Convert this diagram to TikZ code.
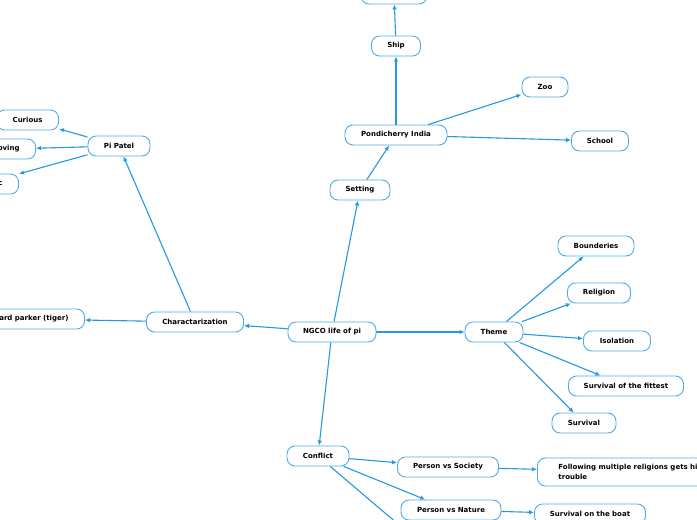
\documentclass[tikz,border=0pt]{standalone}
\usepackage{fontspec}
\newfontfamily\mapfont{DejaVu Sans}
\usetikzlibrary{arrows.meta}
\definecolor{nodeborder}{RGB}{78,170,232}
\definecolor{edgeblue}{RGB}{36,152,228}
\tikzset{
  mnode/.style={draw=nodeborder, fill=white, rounded corners=8pt, line width=0.9pt,
    minimum height=20pt, inner xsep=4pt, inner ysep=1pt,
    font=\mapfont\bfseries\fontsize{7}{9.5}\selectfont},
  cutnode/.style={mnode, inner xsep=16pt},
  conn/.style={draw=edgeblue, line width=1.1pt, -{Latex[length=5pt,width=4.5pt]}}
}
\begin{document}
\begin{tikzpicture}[x=1pt,y=-1pt]
\useasboundingbox (0,0) rectangle (697,520);
\clip (0,0) rectangle (697,520);
% nodes
\node[mnode, minimum width=88pt] (ctr) at (332,332) {NGCO life of pi};
\node[mnode, minimum width=60pt] (setting) at (360,190) {Setting};
\node[mnode, minimum width=102pt] (pond) at (396,135) {Pondicherry India};
\node[mnode, minimum width=49pt] (ship) at (396,46) {Ship};
\node[mnode, minimum width=66pt] (top) at (394,-6) {};
\node[mnode, minimum width=46pt] (zoo) at (545,87) {Zoo};
\node[mnode, minimum width=57pt] (school) at (600,141) {School};
\node[mnode, minimum width=58pt] (theme) at (494,332) {Theme};
\node[mnode, minimum width=76pt] (bound) at (596,246) {Bounderies};
\node[mnode, minimum width=63pt] (relig) at (599,293) {Religion};
\node[mnode, minimum width=67pt] (isol) at (617,341) {Isolation};
\node[mnode, minimum width=115pt] (fittest) at (626,386) {Survival of the fittest};
\node[mnode, minimum width=64pt] (surv) at (584,423) {Survival};
\node[mnode, minimum width=62pt] (conflict) at (318,456) {Conflict};
\node[mnode, minimum width=101pt] (society) at (448,467) {Person vs Society};
\node[mnode, minimum width=100pt] (nature) at (451,510) {Person vs Nature};
\node[mnode, minimum width=111pt] (boat) at (590,514) {Survival on the boat};
\node[mnode, minimum height=28pt, inner xsep=21pt, align=left, anchor=west] (follow) at (537,472) {Following multiple religions gets him into\\trouble};
\coordinate (offnode) at (405,530);
\node[mnode, minimum width=97pt] (charac) at (195,322) {Charactarization};
\node[cutnode, anchor=east] (richard) at (85,319) {Richard parker (tiger)};
\node[mnode, minimum width=62pt] (pipatel) at (119,146) {Pi Patel};
\node[cutnode, anchor=east] (curious) at (59,120) {Curious};
\node[cutnode, anchor=east] (loving) at (36,149) {Loving};
\node[cutnode, anchor=east] (cnode) at (19,184) {Optimistic};
% connectors
\draw[conn] (ctr) -- (setting);
\draw[conn] (ctr) -- (charac);
\draw[conn] (ctr) -- (theme);
\draw[conn] (ctr) -- (conflict);
\draw[conn] (setting) -- (pond);
\draw[conn] (pond) -- (ship);
\draw[conn] (pond) -- (zoo);
\draw[conn] (pond) -- (school);
\draw[conn] (ship) -- (top);
\draw[conn] (theme) -- (bound);
\draw[conn] (theme) -- (relig);
\draw[conn] (theme) -- (isol);
\draw[conn] (theme) -- (fittest);
\draw[conn] (theme) -- (surv);
\draw[conn] (conflict) -- (society);
\draw[conn] (conflict) -- (nature);
\draw[conn] (conflict) -- (offnode);
\draw[conn] (society) -- (follow);
\draw[conn] (nature) -- (boat);
\draw[conn] (charac) -- (richard);
\draw[conn] (charac) -- (pipatel);
\draw[conn] (pipatel) -- (curious);
\draw[conn] (pipatel) -- (loving);
\draw[conn] (pipatel) -- (cnode);
\end{tikzpicture}
\end{document}
